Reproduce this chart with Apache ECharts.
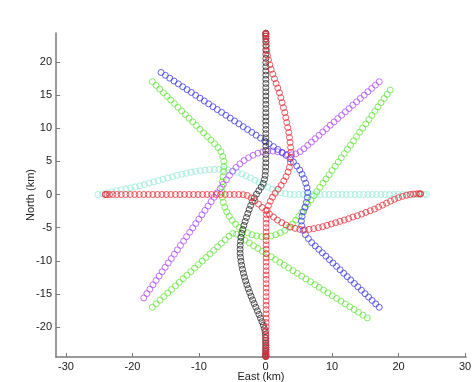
<!DOCTYPE html>
<html><head><meta charset="utf-8">
<script src="https://cdn.jsdelivr.net/npm/echarts@6/dist/echarts.min.js"></script>
<style>html,body{margin:0;padding:0;background:#fff}#c{width:474px;height:382px}</style>
</head><body><div id="c"></div>
<script>
var xTicks = [-30,-20,-10,0,10,20,30];
var yTicks = [-20,-15,-10,-5,0,5,10,15,20];

var cyan = [[-25.2,0.0],[-24.5,0.1],[-23.8,0.25],[-23.1,0.4],[-22.4,0.55],[-21.7,0.7],[-21.0,0.85],[-20.3,1.0],[-19.6,1.15],[-18.9,1.3],[-18.2,1.5],[-17.5,1.7],[-16.8,1.9],[-16.1,2.1],[-15.4,2.3],[-14.7,2.5],[-14.0,2.7],[-13.3,2.9],[-12.6,3.05],[-11.9,3.2],[-11.2,3.35],[-10.5,3.47],[-9.8,3.58],[-9.1,3.67],[-8.4,3.74],[-7.7,3.78],[-7.0,3.8],[-6.3,3.78],[-5.6,3.7],[-4.9,3.55],[-4.2,3.35],[-3.55,3.1],[-2.9,2.82],[-2.25,2.5],[-1.6,2.15],[-0.95,1.8],[-0.3,1.45],[0.35,1.1],[1.0,0.8],[1.65,0.5],[2.3,0.28],[3.0,0.12],[3.7,0.03],[4.35,0],[5.0,0],[5.65,0],[6.3,0],[6.95,0],[7.6,0],[8.25,0],[8.9,0],[9.55,0],[10.2,0],[10.85,0],[11.5,0],[12.15,0],[12.8,0],[13.45,0],[14.1,0],[14.75,0],[15.4,0],[16.05,0],[16.7,0],[17.35,0],[18.0,0],[18.65,0],[19.3,0],[19.95,0],[20.6,0],[21.25,0],[21.9,0],[22.55,0],[23.2,0],[23.85,0],[24.2,0]];

var green1 = [[-17.00,17.00],[-16.45,16.45],[-15.90,15.90],[-15.35,15.35],[-14.80,14.80],[-14.25,14.25],[-13.70,13.70],[-13.15,13.15],[-12.60,12.60],[-12.05,12.05],[-11.50,11.50],[-10.95,10.95],[-10.40,10.40],[-9.85,9.85],[-9.30,9.30],[-8.75,8.75],[-8.20,8.20],[-7.65,7.65],[-7.12,7.08],[-6.70,6.45],[-6.42,5.75],[-6.28,5.00],[-6.25,4.22],[-6.30,3.45],[-6.40,2.68],[-6.50,1.90],[-6.55,1.12],[-6.55,0.35],[-6.48,-0.42],[-6.35,-1.18],[-6.12,-1.92],[-5.82,-2.62],[-5.45,-3.28],[-5.00,-3.90],[-4.50,-4.46],[-3.95,-4.96],[-3.35,-5.40],[-2.70,-5.78],[-2.02,-6.06],[-1.32,-6.25],[-0.60,-6.35],[0.12,-6.36],[0.84,-6.26],[1.55,-6.06],[2.24,-5.77],[2.90,-5.40],[3.50,-4.95],[4.05,-4.44],[4.55,-3.88],[5.02,-3.28],[5.47,-2.67],[5.92,-2.05],[6.37,-1.43],[6.82,-0.81],[7.27,-0.19],[7.72,0.43],[8.18,1.07],[8.64,1.71],[9.10,2.34],[9.56,2.98],[10.02,3.62],[10.48,4.26],[10.94,4.90],[11.40,5.54],[11.86,6.17],[12.32,6.81],[12.78,7.45],[13.24,8.09],[13.70,8.73],[14.15,9.37],[14.61,10.00],[15.07,10.64],[15.53,11.28],[15.99,11.92],[16.45,12.56],[16.91,13.20],[17.37,13.84],[17.83,14.47],[18.29,15.11],[18.75,15.75]];

var green2 = [[-17.00,-17.00],[-16.42,-16.46],[-15.85,-15.93],[-15.27,-15.39],[-14.70,-14.86],[-14.12,-14.32],[-13.54,-13.79],[-12.97,-13.25],[-12.39,-12.71],[-11.82,-12.18],[-11.24,-11.64],[-10.66,-11.11],[-10.09,-10.57],[-9.51,-10.04],[-8.94,-9.50],[-8.36,-8.96],[-7.78,-8.43],[-7.21,-7.89],[-6.63,-7.36],[-6.06,-6.82],[-5.48,-6.29],[-4.93,-5.85],[-4.35,-5.98],[-3.75,-6.42],[-3.10,-6.88],[-2.44,-7.30],[-1.79,-7.72],[-1.13,-8.14],[-0.47,-8.55],[0.19,-8.97],[0.84,-9.39],[1.50,-9.81],[2.16,-10.23],[2.81,-10.65],[3.47,-11.07],[4.13,-11.48],[4.78,-11.90],[5.44,-12.32],[6.10,-12.74],[6.76,-13.16],[7.41,-13.58],[8.07,-14.00],[8.73,-14.41],[9.38,-14.83],[10.04,-15.25],[10.70,-15.67],[11.35,-16.09],[12.01,-16.51],[12.67,-16.93],[13.33,-17.34],[13.98,-17.76],[14.64,-18.18],[15.30,-18.60]];

var magenta = [[-18.30,-15.60],[-17.84,-14.94],[-17.38,-14.28],[-16.92,-13.62],[-16.46,-12.96],[-16.00,-12.30],[-15.54,-11.64],[-15.08,-10.98],[-14.62,-10.32],[-14.16,-9.66],[-13.70,-9.00],[-13.24,-8.34],[-12.78,-7.68],[-12.32,-7.02],[-11.86,-6.36],[-11.40,-5.70],[-10.94,-5.04],[-10.48,-4.38],[-10.02,-3.72],[-9.56,-3.06],[-9.10,-2.40],[-8.64,-1.74],[-8.18,-1.08],[-7.72,-0.42],[-7.26,0.24],[-6.80,0.90],[-6.34,1.56],[-5.88,2.22],[-5.42,2.88],[-4.95,3.50],[-4.42,4.08],[-3.85,4.62],[-3.22,5.12],[-2.56,5.55],[-1.86,5.92],[-1.14,6.22],[-0.40,6.44],[0.35,6.56],[1.10,6.56],[1.84,6.44],[2.56,6.24],[3.25,6.05],[3.92,5.98],[4.58,6.12],[5.20,6.45],[5.78,6.90],[6.35,7.41],[6.91,7.91],[7.48,8.42],[8.04,8.92],[8.61,9.43],[9.18,9.93],[9.74,10.44],[10.31,10.94],[10.87,11.45],[11.44,11.95],[12.01,12.46],[12.57,12.96],[13.14,13.47],[13.70,13.97],[14.27,14.48],[14.84,14.98],[15.40,15.49],[15.97,15.99],[16.53,16.50],[17.10,17.00]];

var blue = [[-15.70,18.40],[-15.05,17.97],[-14.40,17.54],[-13.75,17.11],[-13.10,16.68],[-12.45,16.25],[-11.80,15.82],[-11.15,15.39],[-10.50,14.96],[-9.85,14.53],[-9.20,14.10],[-8.55,13.67],[-7.90,13.24],[-7.25,12.81],[-6.60,12.38],[-5.95,11.95],[-5.30,11.52],[-4.65,11.09],[-4.00,10.66],[-3.35,10.23],[-2.70,9.80],[-2.05,9.37],[-1.40,8.94],[-0.75,8.51],[-0.10,8.08],[0.55,7.65],[1.20,7.22],[1.85,6.79],[2.50,6.36],[3.10,5.90],[3.70,5.40],[4.20,4.90],[4.70,4.30],[5.15,3.70],[5.50,3.05],[5.80,2.40],[6.05,1.70],[6.25,1.00],[6.35,0.30],[6.30,-0.45],[6.15,-1.20],[5.95,-1.90],[5.70,-2.60],[5.50,-3.30],[5.40,-4.00],[5.45,-4.70],[5.65,-5.40],[6.00,-6.05],[6.45,-6.65],[6.95,-7.25],[7.48,-7.76],[8.02,-8.28],[8.55,-8.79],[9.09,-9.30],[9.62,-9.82],[10.15,-10.33],[10.69,-10.84],[11.22,-11.35],[11.76,-11.87],[12.29,-12.38],[12.82,-12.89],[13.36,-13.41],[13.89,-13.92],[14.43,-14.43],[14.96,-14.95],[15.50,-15.46],[16.03,-15.97],[16.57,-16.49],[17.10,-17.00]];

var red1 = [[-24.10,0],[-24.05,0],[-23.85,0],[-23.45,0],[-22.95,0],[-22.35,0],[-21.70,0],[-21.02,0],[-20.34,0],[-19.66,0],[-18.98,0],[-18.30,0],[-17.62,0],[-16.94,0],[-16.26,0],[-15.58,0],[-14.90,0],[-14.22,0],[-13.54,0],[-12.86,0],[-12.18,0],[-11.50,0],[-10.82,0],[-10.14,0],[-9.46,0],[-8.78,0],[-8.10,0],[-7.42,0],[-6.74,0],[-6.06,0],[-5.38,0],[-4.70,0],[-4.02,0],[-3.36,-0.03],[-2.75,-0.15],[-2.15,-0.50],[-1.60,-0.95],[-1.05,-1.45],[-0.50,-1.95],[0.05,-2.45],[0.60,-2.95],[1.20,-3.40],[1.80,-3.85],[2.45,-4.25],[3.10,-4.60],[3.75,-4.90],[4.45,-5.10],[5.15,-5.25],[5.85,-5.30],[6.55,-5.25],[7.25,-5.15],[7.95,-5.00],[8.60,-4.85],[9.25,-4.65],[9.90,-4.45],[10.55,-4.25],[11.20,-4.05],[11.85,-3.85],[12.50,-3.65],[13.15,-3.40],[13.80,-3.20],[14.45,-2.95],[15.10,-2.70],[15.75,-2.45],[16.40,-2.20],[17.00,-1.90],[17.60,-1.60],[18.20,-1.30],[18.80,-1.00],[19.40,-0.72],[20.00,-0.48],[20.60,-0.28],[21.20,-0.12],[21.75,0.00],[22.25,0.07],[22.70,0.10],[23.05,0.10],[23.25,0.10],[23.35,0.10]];

var red2 = [[0.05,24.40],[0.05,24.32],[0.05,24.15],[0.06,23.85],[0.08,23.45],[0.10,22.95],[0.14,22.35],[0.20,21.68],[0.30,20.98],[0.45,20.28],[0.65,19.56],[0.85,18.85],[1.10,18.15],[1.35,17.45],[1.60,16.75],[1.85,16.05],[2.10,15.35],[2.30,14.60],[2.50,13.85],[2.70,13.10],[2.90,12.35],[3.05,11.60],[3.20,10.85],[3.35,10.10],[3.50,9.35],[3.60,8.60],[3.70,7.85],[3.78,7.10],[3.82,6.35],[3.82,5.60],[3.75,4.85],[3.60,4.10],[3.40,3.40],[3.10,2.70],[2.75,2.05],[2.35,1.40],[1.90,0.80],[1.45,0.20],[1.05,-0.40],[0.72,-1.02],[0.45,-1.68],[0.25,-2.38],[0.15,-3.05],[0.10,-3.70],[0.10,-4.35],[0.10,-5.00],[0.10,-5.65],[0.10,-6.30],[0.10,-6.95],[0.10,-7.60],[0.10,-8.25],[0.10,-8.90],[0.10,-9.55],[0.10,-10.20],[0.10,-10.85],[0.10,-11.50],[0.10,-12.15],[0.10,-12.80],[0.10,-13.45],[0.10,-14.10],[0.10,-14.75],[0.10,-15.40],[0.10,-16.05],[0.10,-16.70],[0.10,-17.35],[0.10,-18.00],[0.10,-18.65],[0.10,-19.30],[0.10,-19.95],[0.08,-20.55],[0.06,-21.15],[0.05,-21.70],[0.05,-22.20],[0.05,-22.65],[0.05,-23.05],[0.05,-23.40],[0.05,-23.70],[0.05,-23.95],[0.05,-24.15],[0.05,-24.30],[0.05,-24.40]];

var black = [[0.05,24.40],[0.05,24.32],[0.05,24.15],[0.05,23.88],[0.05,23.50],[0.05,23.02],[0.05,22.45],[0.05,21.80],[0.05,21.15],[0.05,20.52],[0.05,19.89],[0.05,19.26],[0.05,18.63],[0.05,18.00],[0.05,17.37],[0.05,16.74],[0.05,16.11],[0.05,15.48],[0.05,14.85],[0.05,14.22],[0.05,13.59],[0.05,12.96],[0.05,12.33],[0.05,11.70],[0.05,11.07],[0.05,10.44],[0.05,9.81],[0.05,9.18],[0.05,8.55],[0.05,7.92],[0.05,7.29],[0.05,6.66],[0.05,6.03],[0.05,5.40],[0.05,4.77],[0.03,4.14],[0.00,3.51],[-0.05,2.88],[-0.15,2.27],[-0.35,1.68],[-0.65,1.12],[-1.00,0.58],[-1.35,0.05],[-1.68,-0.50],[-1.98,-1.07],[-2.22,-1.66],[-2.45,-2.26],[-2.66,-2.86],[-2.86,-3.46],[-3.06,-4.06],[-3.25,-4.66],[-3.42,-5.26],[-3.56,-5.86],[-3.67,-6.46],[-3.75,-7.06],[-3.80,-7.66],[-3.82,-8.26],[-3.81,-8.86],[-3.76,-9.46],[-3.68,-10.06],[-3.58,-10.66],[-3.46,-11.26],[-3.32,-11.86],[-3.16,-12.45],[-2.99,-13.04],[-2.80,-13.62],[-2.60,-14.20],[-2.39,-14.77],[-2.17,-15.33],[-1.94,-15.89],[-1.70,-16.44],[-1.46,-16.99],[-1.22,-17.54],[-0.98,-18.09],[-0.75,-18.64],[-0.53,-19.18],[-0.33,-19.70],[-0.17,-20.20],[-0.06,-20.68],[0.00,-21.14],[0.02,-21.58],[0.03,-22.00],[0.04,-22.40],[0.05,-22.77],[0.05,-23.11],[0.05,-23.42],[0.05,-23.69],[0.05,-23.92],[0.05,-24.11],[0.05,-24.26],[0.05,-24.37],[0.05,-24.44]];

var seriesList = [
  {name:'cyan', data:cyan, color:'#96ebdc'},
  {name:'green1', data:green1, color:'#66e83c'},
  {name:'green2', data:green2, color:'#66e83c'},
  {name:'magenta', data:magenta, color:'#b450fa'},
  {name:'blue', data:blue, color:'#4040e8'},
  {name:'black', data:black, color:'#2a2a2a'},
  {name:'red1', data:red1, color:'#e8323c'},
  {name:'red2', data:red2, color:'#e8323c'}
];

var axisColor = '#7a7a7a';
var font = 'Liberation Sans, Arial, Helvetica, sans-serif';
var chart = echarts.init(document.getElementById('c'), null, {renderer:'canvas'});
chart.setOption({
  animation: false,
  backgroundColor: '#fff',
  grid: {left: 56, right: 8, top: 33, bottom: 25, containLabel: false, outerBoundsMode: 'none'},
  xAxis: {
    type: 'value', min: -31.5, max: 30.15,
    name: 'East (km)', nameLocation: 'middle', nameGap: 14, nameMoveOverlap: false,
    nameTextStyle: {color: '#222', fontSize: 11, fontFamily: font},
    axisLine: {onZero: false, lineStyle: {color: axisColor, width: 1.5}},
    axisTick: {inside: true, length: 4, customValues: xTicks, lineStyle: {color: axisColor, width: 1}},
    axisLabel: {customValues: xTicks, color: '#222', fontSize: 11, fontFamily: font, margin: 4},
    splitLine: {show: false}
  },
  yAxis: {
    type: 'value', min: -24.5, max: 24.35,
    name: 'North (km)', nameLocation: 'middle', nameGap: 20, nameMoveOverlap: false,
    nameTextStyle: {color: '#222', fontSize: 11, fontFamily: font},
    axisLine: {onZero: false, lineStyle: {color: axisColor, width: 1.5}},
    axisTick: {inside: true, length: 4, customValues: yTicks, lineStyle: {color: axisColor, width: 1}},
    axisLabel: {customValues: yTicks, color: '#222', fontSize: 11, fontFamily: font, margin: 4},
    splitLine: {show: false}
  },
  series: seriesList.map(function(s){
    return {
      type: 'scatter', name: s.name, data: s.data, symbol: 'circle', symbolSize: 6,
      silent: true,
      itemStyle: {color: 'rgba(0,0,0,0)', borderColor: s.color, borderWidth: 1}
    };
  })
});
</script>
</body></html>
